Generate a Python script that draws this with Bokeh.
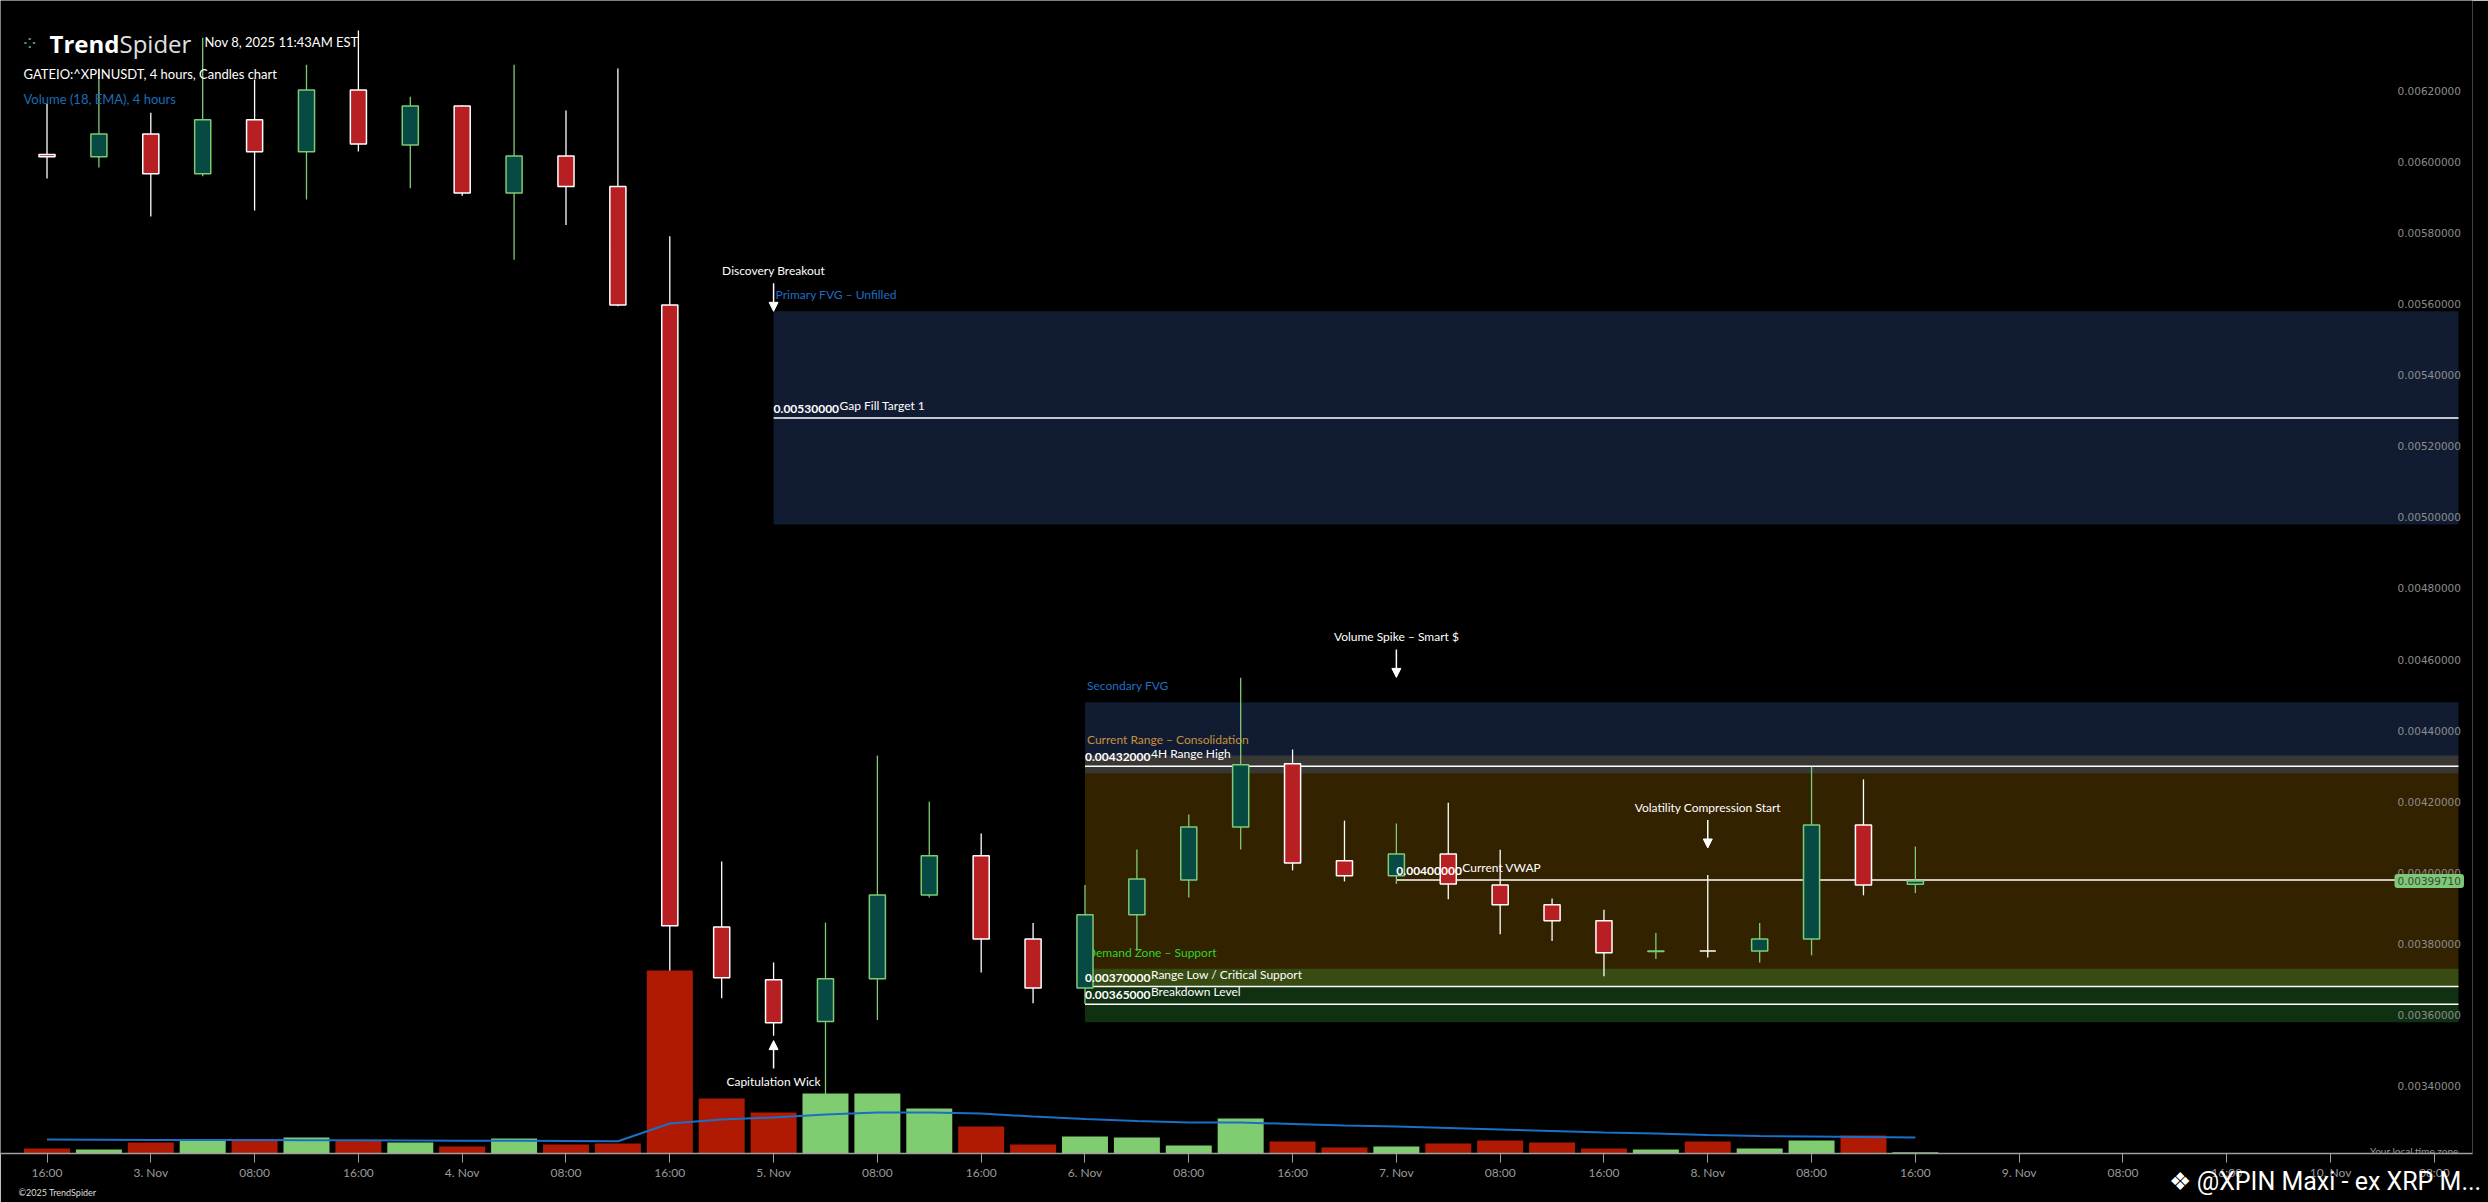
import numpy as np
from bokeh.plotting import figure
from bokeh.models import Range1d, FixedTicker, ColumnDataSource, Label, Arrow, NormalHead, Title
from bokeh.core.properties import value
from bokeh.embed import file_html
from bokeh.resources import INLINE

# ---------------- data ----------------
candle_time = ["2 Nov 16:00", "2 Nov 20:00", "3 Nov 00:00", "3 Nov 04:00", "3 Nov 08:00", "3 Nov 12:00",
               "3 Nov 16:00", "3 Nov 20:00", "4 Nov 00:00", "4 Nov 04:00", "4 Nov 08:00", "4 Nov 12:00",
               "4 Nov 16:00", "4 Nov 20:00", "5 Nov 00:00", "5 Nov 04:00", "5 Nov 08:00", "5 Nov 12:00",
               "5 Nov 16:00", "5 Nov 20:00", "6 Nov 00:00", "6 Nov 04:00", "6 Nov 08:00", "6 Nov 12:00",
               "6 Nov 16:00", "6 Nov 20:00", "7 Nov 00:00", "7 Nov 04:00", "7 Nov 08:00", "7 Nov 12:00",
               "7 Nov 16:00", "7 Nov 20:00", "8 Nov 00:00", "8 Nov 04:00", "8 Nov 08:00", "8 Nov 12:00",
               "8 Nov 16:00"]
open_ = [0.006041, 0.006035, 0.006099, 0.005987, 0.006139, 0.006049, 0.006223, 0.006068, 0.006178, 0.005933,
         0.006037, 0.005951, 0.005618, 0.003868, 0.003719, 0.003602, 0.003722, 0.003958, 0.004068, 0.003834,
         0.003696, 0.003902, 0.004000, 0.004149, 0.004327, 0.004054, 0.004012, 0.004073, 0.003986, 0.003930,
         0.003885, 0.003799, 0.003800, 0.003800, 0.003834, 0.004155, 0.003988]
high = [0.006184, 0.006283, 0.006159, 0.006370, 0.006252, 0.006294, 0.006390, 0.006204, 0.006180, 0.006294,
        0.006165, 0.006283, 0.005811, 0.004052, 0.003768, 0.003880, 0.004350, 0.004220, 0.004131, 0.003879,
        0.003986, 0.004086, 0.004184, 0.004569, 0.004367, 0.004167, 0.004159, 0.004217, 0.004085, 0.003948,
        0.003916, 0.003851, 0.004014, 0.003879, 0.004318, 0.004283, 0.004094]
low = [0.005974, 0.006005, 0.005867, 0.005980, 0.005884, 0.005915, 0.006050, 0.005946, 0.005925, 0.005745,
       0.005843, 0.005614, 0.003720, 0.003667, 0.003562, 0.003390, 0.003606, 0.003951, 0.003740, 0.003653,
       0.003651, 0.003801, 0.003951, 0.004086, 0.004027, 0.003996, 0.003989, 0.003946, 0.003847, 0.003828,
       0.003729, 0.003778, 0.003782, 0.003768, 0.003788, 0.003957, 0.003963]
close = [0.006035, 0.006099, 0.005987, 0.006139, 0.006049, 0.006223, 0.006071, 0.006178, 0.005933, 0.006037,
         0.005951, 0.005618, 0.003871, 0.003725, 0.003598, 0.003722, 0.003958, 0.004068, 0.003834, 0.003696,
         0.003902, 0.004003, 0.004149, 0.004324, 0.004048, 0.004012, 0.004073, 0.003989, 0.003930, 0.003885,
         0.003795, 0.003800, 0.003800, 0.003834, 0.004155, 0.003986, 0.0039971]
volume_k = [50, 40, 110, 130, 140, 160, 130, 110, 70, 150, 90, 100, 1830, 550, 410, 600, 600, 450, 270, 90,
            170, 160, 80, 350, 120, 60, 70, 100, 130, 110, 50, 40, 120, 50, 130, 180, 13]
volume_ema_k = [140, 138, 136, 135, 134, 133, 132, 130, 128, 127, 125, 123, 300, 340, 360, 390, 410, 410, 400,
                370, 345, 325, 310, 310, 295, 280, 270, 255, 240, 225, 210, 200, 185, 175, 170, 165, 160]

x_tick_labels = ["16:00", "3. Nov", "08:00", "16:00", "4. Nov", "08:00", "16:00", "5. Nov", "08:00", "16:00",
                 "6. Nov", "08:00", "16:00", "7. Nov", "08:00", "16:00", "8. Nov", "08:00", "16:00", "9. Nov",
                 "08:00", "16:00", "10. Nov", "08:00"]
y_tick_values = [0.0034, 0.0036, 0.0038, 0.0040, 0.0042, 0.0044, 0.0046, 0.0048, 0.0050, 0.0052, 0.0054,
                 0.0056, 0.0058, 0.0060, 0.0062]
y_tick_labels = ["0.00340000", "0.00360000", "0.00380000", "0.00400000", "0.00420000", "0.00440000",
                 "0.00460000", "0.00480000", "0.00500000", "0.00520000", "0.00540000", "0.00560000",
                 "0.00580000", "0.00600000", "0.00620000"]

zone_names = ["Current Range \u2013 Consolidation", "Primary FVG \u2013 Unfilled", "Secondary FVG",
              "Demand Zone \u2013 Support"]
zone_start = [20, 14, 20, 20]
zone_bottom = [0.0037, 0.0050, 0.0043, 0.0036]
zone_top = [0.00435, 0.0056, 0.0045, 0.00375]
zone_fill = ["#ffaa00", "#558cff", "#558cff", "#50f05a"]
zone_text_color = ["#c8903a", "#1f6fc4", "#1f6fc4", "#2fd42f"]

level_price = [0.0053, 0.00432, 0.0040, 0.0037, 0.00365]
level_text = ["Gap Fill Target 1", "4H Range High", "Current VWAP", "Range Low / Critical Support",
              "Breakdown Level"]
level_start = [14, 20, 26, 20, 20]

event_text = ["Discovery Breakout", "Capitulation Wick", "Volume Spike \u2013 Smart $",
              "Volatility Compression Start"]
event_x = [14, 14, 26, 32]
event_price = [0.0056, 0.003548, 0.00457, 0.00409]
event_dir = ["down", "up", "down", "down"]

last_price = 0.0039971

# ---------------- layout ----------------
X0, X1 = -0.896, 46.735          # frame spans page x 0 .. 2472
ZR = 46.465                      # right end of zones / level lines (page x 2458)
Y0, Y1 = 0.0032304, 0.0064746
FIG_W, FIG_H = 2488, 1202
RIGHT_B, BOTTOM_B = 16, 49
FRAME_W, FRAME_H = FIG_W - RIGHT_B, FIG_H - BOTTOM_B
PPX = (Y1 - Y0) / FRAME_H
FONT = value("Lato")

p = figure(width=FIG_W, height=FIG_H, x_range=Range1d(X0, X1), y_range=Range1d(Y0, Y1),
           y_axis_location="right", output_backend="svg", toolbar_location=None,
           background_fill_color="#000000", border_fill_color="#000000", outline_line_color=None,
           min_border_left=0, min_border_top=0, min_border_right=RIGHT_B, min_border_bottom=BOTTOM_B)
p.extra_y_ranges = {"vol": Range1d(0, FRAME_H * 10)}
p.grid.visible = False

# y axis (labels drawn inside the chart area on the right, sitting just above their level)
ya = p.yaxis[0]
ya.ticker = FixedTicker(ticks=y_tick_values)
ya.major_label_overrides = {v: t + "\n" for v, t in zip(y_tick_values, y_tick_labels)}
ya.axis_line_color = None
ya.major_tick_line_color = None
ya.minor_tick_line_color = None
ya.major_tick_in = 0
ya.major_tick_out = 0
ya.major_label_standoff = -75
ya.major_label_text_color = "#8c8c8c"
ya.major_label_text_font = "DejaVu Sans"
ya.major_label_text_font_size = "10.5px"

xa = p.xaxis[0]
x_tick_pos = list(range(0, 2 * len(x_tick_labels), 2))
xa.ticker = FixedTicker(ticks=x_tick_pos)
xa.major_label_overrides = {v: t for v, t in zip(x_tick_pos, x_tick_labels)}
xa.axis_line_color = "#a0a0a0"
xa.axis_line_width = 1.5
xa.major_tick_line_color = "#a0a0a0"
xa.minor_tick_line_color = None
xa.major_tick_in = 0
xa.major_tick_out = 9
xa.major_label_standoff = 2
xa.major_label_text_color = "#9a9a9a"
xa.major_label_text_font = "Lato"
xa.major_label_text_font_size = "12px"

# zones
p.quad(left=zone_start, right=[ZR] * len(zone_start), bottom=zone_bottom, top=zone_top,
       fill_color=zone_fill, fill_alpha=0.2, line_color=None)
p.text(x=zone_start, y=[t + 9 * PPX for t in zone_top], text=zone_names, text_color=zone_text_color,
       text_font=FONT, text_font_size="12px", text_baseline="bottom", text_align="left", x_offset=2)

# level lines
p.segment(x0=level_start, y0=level_price, x1=[ZR] * len(level_price), y1=level_price,
          line_color="#ffffff", line_width=1.5)

# candles
idx = list(range(len(open_)))
up_col, dn_col, flat_col = "#7ecb73", "#ffffff", "#ffffff"
body_fill, body_line, wick_col = [], [], []
for o, c in zip(open_, close):
    if c > o:
        body_fill.append("#074a44"); body_line.append(up_col); wick_col.append(up_col)
    elif c < o:
        body_fill.append("#b81f22"); body_line.append(dn_col); wick_col.append(dn_col)
    else:
        body_fill.append("#ffffff"); body_line.append(flat_col); wick_col.append(flat_col)
src = ColumnDataSource(dict(x=idx, t=candle_time, o=open_, h=high, l=low, c=close,
                            top=[max(o, c) for o, c in zip(open_, close)],
                            bot=[min(o, c) for o, c in zip(open_, close)],
                            fill=body_fill, line=body_line, wick=wick_col))
p.segment(x0="x", y0="h", x1="x", y1="l", line_color="wick", line_width=1.3, source=src)
p.vbar(x="x", width=0.31, top="top", bottom="bot", fill_color="fill", line_color="line",
       line_width=1.5, source=src)

# volume
vol_col = ["#80cc70" if c > o else "#b01a03" for o, c in zip(open_, close)]
p.vbar(x=idx, width=0.886, top=volume_k, bottom=0, y_range_name="vol", fill_color=vol_col, line_color=None)
p.line(x=idx, y=volume_ema_k, y_range_name="vol", line_color="#1a6fc8", line_width=2)

# level labels
p.text(x=level_start, y=[v + 5 * PPX for v in level_price], text=[f"{v:.8f}" for v in level_price],
       text_color="#ffffff", text_font=FONT, text_font_size="12px", text_font_style="bold",
       text_baseline="bottom", text_align="left", x_offset=0)
p.text(x=level_start, y=[v + 5 * PPX for v in level_price], text=level_text,
       text_color="#ffffff", text_font=FONT, text_font_size="12px",
       text_baseline="bottom", text_align="left", x_offset=66)

# event arrows
ARROW_LEN = 28
for t, xv, pv, d in zip(event_text, event_x, event_price, event_dir):
    sgn = 1 if d == "down" else -1
    tail = pv + sgn * ARROW_LEN * PPX
    p.add_layout(Arrow(end=NormalHead(size=9, fill_color="#ffffff", line_color="#ffffff"),
                       x_start=xv, y_start=tail, x_end=xv, y_end=pv,
                       line_color="#ffffff", line_width=1.5))
    ty = tail + sgn * 5 * PPX
    p.text(x=[xv], y=[ty], text=[t], text_color="#ffffff", text_font=FONT, text_font_size="12px",
           text_align="center", text_baseline="bottom" if d == "down" else "top")

# last price tag
p.add_layout(Label(x=2394, y=last_price, x_units="screen", text=f"{last_price:.8f}", text_align="left",
                   text_baseline="middle", text_color="#3a4a3a", text_font="DejaVu Sans",
                   text_font_size="10.5px", background_fill_color="#7fc878", border_radius=3, padding=3))

# header texts (screen units, origin = frame bottom-left)
def screen_label(x, y, text, size, color, style="normal", font="Lato", align="left", baseline="alphabetic"):
    p.add_layout(Label(x=x, y=y, x_units="screen", y_units="screen", text=text, text_font_size=size,
                       text_color=color, text_font_style=style, text_font=font, text_align=align,
                       text_baseline=baseline))

screen_label(20, 1110, "\u2058", "22px", "#4f8f8f", font="DejaVu Sans")
screen_label(49, 1110, "Trend", "24px", "#ffffff", style="bold", font="Open Sans")
screen_label(119, 1110, "Spider", "24px", "#e0e0e0", font="Open Sans")
screen_label(204, 1112, "Nov 8, 2025 11:43AM EST", "13px", "#ffffff")
screen_label(23, 1080, "GATEIO:^XPINUSDT, 4 hours, Candles chart", "13px", "#ffffff")
screen_label(23, 1055, "Volume (18, EMA), 4 hours", "13px", "#1c6db5")
screen_label(2458, 3, "Your local time zone", "10px", "#9a9a9a", align="right")

# footer texts below the time axis
p.add_layout(Title(text="\u2756 @XPIN Maxi - ex XRP M...", align="left", offset=2168, standoff=-32,
                   vertical_align="top", text_font="Roboto", text_font_size="25px",
                   text_font_style="normal", text_color="#ffffff"), "below")
p.add_layout(Title(text="\u00a92025 TrendSpider", align="left", offset=18, standoff=4,
                   text_font="Lato", text_font_size="9px", text_font_style="normal",
                   text_color="#dddddd"), "below")

html = file_html(p, INLINE)
html = html.replace("<body>", '<body style="background-color:#000000;">', 1)
open("out.html", "w").write(html)
